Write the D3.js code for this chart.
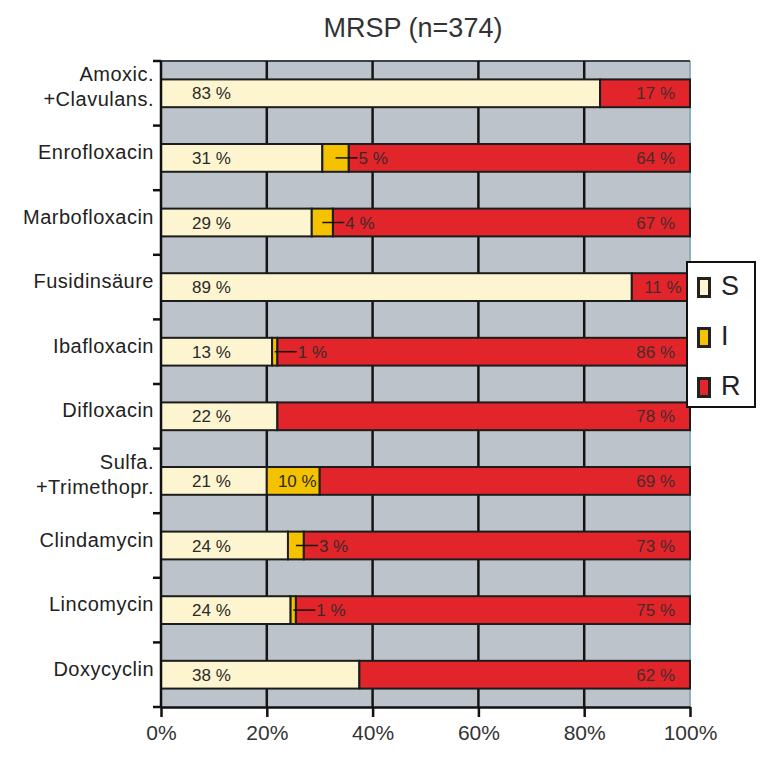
<!DOCTYPE html>
<html>
<head>
<meta charset="utf-8">
<script src="https://cdn.jsdelivr.net/npm/d3@7"></script>
<style>
  body { margin: 0; background: #fff; }
  svg text { font-family: "Liberation Sans", Arial, sans-serif; }
</style>
</head>
<body>
<div id="chart"></div>
<script>
// antibiotics (two-line labels split into arrays)
var categories = [
  ["Amoxic.", "+Clavulans."], ["Enrofloxacin"], ["Marbofloxacin"], ["Fusidinsäure"],
  ["Ibafloxacin"], ["Difloxacin"], ["Sulfa.", "+Trimethopr."], ["Clindamycin"],
  ["Lincomycin"], ["Doxycyclin"]
];
// segment lengths as drawn in the picture (%)
var sDrawn = [83, 30.5, 28.5, 89, 21, 22, 20, 24, 24.5, 37.5];
var iDrawn = [0, 5, 4, 0, 1, 0, 10, 3, 1, 0];
var rDrawn = [17, 64.5, 67.5, 11, 78, 78, 70, 73, 74.5, 62.5];
// printed percentages
var sLabel = [83, 31, 29, 89, 13, 22, 21, 24, 24, 38];
var iLabel = [0, 5, 4, 0, 1, 0, 10, 3, 1, 0];
var rLabel = [17, 64, 67, 11, 86, 78, 69, 73, 75, 62];
var xTicks = [0, 20, 40, 60, 80, 100];
var legendKeys = ["S", "I", "R"];

var width = 768, height = 780;
var pLeft = 161, pRight = 690, pTop = 61, pBottom = 707;
var colors = { S: "#fdf5cf", I: "#f5c200", R: "#e2252b" };

var svg = d3.select('#chart').append('svg')
            .attr('width', width)
            .attr('height', height);

var x = d3.scaleLinear().domain([0, 100]).range([pLeft, pRight]);
var y = d3.scaleBand().domain(d3.range(categories.length))
          .range([pTop, pBottom]).paddingInner(0.57).paddingOuter(0.285);

// table for the stack
var table = categories.map(function(c, i) {
  return { idx: i, S: sDrawn[i], I: iDrawn[i], R: rDrawn[i] };
});
var series = d3.stack().keys(legendKeys)(table);

// title
svg.append('text')
   .attr('x', 413).attr('y', 37)
   .attr('text-anchor', 'middle')
   .attr('font-size', 27).attr('fill', '#333')
   .text('MRSP (n=374)');

// plot background
svg.append('rect')
   .attr('x', pLeft).attr('y', pTop)
   .attr('width', pRight - pLeft).attr('height', pBottom - pTop)
   .attr('fill', '#bcc3cb');

svg.append('line')
   .attr('x1', pRight).attr('x2', pRight).attr('y1', pTop).attr('y2', pBottom)
   .attr('stroke', '#8fb0b6').attr('stroke-width', 2);
svg.append('line')
   .attr('x1', pLeft).attr('x2', pRight).attr('y1', pTop).attr('y2', pTop)
   .attr('stroke', '#3c4448').attr('stroke-width', 2);

// vertical gridlines
svg.append('g').selectAll('line')
   .data(xTicks.slice(1, -1))
   .enter().append('line')
   .attr('x1', d => x(d)).attr('x2', d => x(d))
   .attr('y1', pTop).attr('y2', pBottom)
   .attr('stroke', '#151515').attr('stroke-width', 2.5);

// bars
svg.append('g').selectAll('g')
   .data(series)
   .enter().append('g')
   .attr('fill', d => colors[d.key])
   .selectAll('rect')
   .data(d => d.filter(s => s[1] > s[0]))
   .enter().append('rect')
   .attr('x', d => x(d[0]))
   .attr('y', d => y(d.data.idx))
   .attr('width', d => x(d[1]) - x(d[0]))
   .attr('height', y.bandwidth())
   .attr('stroke', '#1c1c1c').attr('stroke-width', 2);

var labels = svg.append('g').attr('font-size', 17);

// S labels
labels.selectAll('.ls')
   .data(table).enter().append('text')
   .attr('x', x(0) + 31)
   .attr('y', d => y(d.idx) + y.bandwidth() / 2 + 6)
   .attr('fill', '#2a2a2a')
   .text(d => sLabel[d.idx] + ' %');

// R labels
labels.selectAll('.lr')
   .data(table).enter().append('text')
   .attr('x', function(d) {
     var x0 = x(100 - d.R);
     return (x(100) - x0 < 70) ? (x0 + x(100)) / 2 + 2 : x(100) - 15;
   })
   .attr('text-anchor', d => (x(100) - x(100 - d.R) < 70) ? 'middle' : 'end')
   .attr('y', d => y(d.idx) + y.bandwidth() / 2 + 6)
   .attr('fill', '#4a2a2a')
   .text(d => rLabel[d.idx] + ' %');

// I labels: inside when wide, else with a leader line
table.filter(d => d.I > 0).forEach(function(d) {
  var cy = y(d.idx) + y.bandwidth() / 2;
  var mid = x(d.S + d.I / 2);
  if (d.I >= 8) {
    labels.append('text')
       .attr('x', mid + 4).attr('y', cy + 6)
       .attr('text-anchor', 'middle').attr('fill', '#2a2a2a')
       .text(iLabel[d.idx] + ' %');
  } else {
    labels.append('line')
       .attr('x1', mid).attr('x2', mid + 22)
       .attr('y1', cy).attr('y2', cy)
       .attr('stroke', '#111').attr('stroke-width', 1.5);
    labels.append('text')
       .attr('x', mid + 23).attr('y', cy + 6)
       .attr('fill', '#3a2a2a')
       .text(iLabel[d.idx] + ' %');
  }
});

// y axis
svg.append('line')
   .attr('x1', pLeft).attr('x2', pLeft).attr('y1', pTop).attr('y2', pBottom)
   .attr('stroke', '#111').attr('stroke-width', 2.5);
svg.append('g').selectAll('line')
   .data(d3.range(categories.length + 1))
   .enter().append('line')
   .attr('x1', pLeft - 8).attr('x2', pLeft)
   .attr('y1', d => pTop + d * (pBottom - pTop) / categories.length)
   .attr('y2', d => pTop + d * (pBottom - pTop) / categories.length)
   .attr('stroke', '#111').attr('stroke-width', 2.5);

var yl = svg.append('g')
   .attr('font-size', 20).attr('fill', '#222')
   .attr('text-anchor', 'end').attr('letter-spacing', 0.5);
categories.forEach(function(c, i) {
  var cy = y(i) + y.bandwidth() / 2;
  var t = yl.append('text').attr('x', 154);
  if (c.length == 1) {
    t.attr('y', cy + 1).text(c[0]);
  } else {
    t.append('tspan').attr('x', 154).attr('y', cy - 12).text(c[0]);
    t.append('tspan').attr('x', 154).attr('y', cy + 13).text(c[1]);
  }
});

// x axis
var xAxis = svg.append('g')
   .attr('transform', 'translate(0,' + pBottom + ')')
   .call(d3.axisBottom(x).tickValues(xTicks).tickFormat(d => d + '%')
           .tickSize(10).tickSizeOuter(0).tickPadding(8));
xAxis.select('.domain').attr('stroke', '#111').attr('stroke-width', 2.5);
xAxis.selectAll('.tick line').attr('stroke', '#111').attr('stroke-width', 2.5);
xAxis.selectAll('.tick text')
   .style('font-size', '21px').attr('fill', '#333')
   .style('font-family', '"Liberation Sans", Arial, sans-serif');

// legend
var lg = svg.append('g');
lg.append('rect')
  .attr('x', 687).attr('y', 262).attr('width', 68).attr('height', 145)
  .attr('fill', '#fff').attr('stroke', '#111').attr('stroke-width', 2);
legendKeys.forEach(function(k, i) {
  var ly = 277 + i * 50;
  lg.append('rect').attr('x', 697).attr('y', ly).attr('width', 14).attr('height', 21)
    .attr('fill', '#222');
  lg.append('rect').attr('x', 700).attr('y', ly + 3).attr('width', 8).attr('height', 15)
    .attr('fill', colors[k]);
  lg.append('text').attr('x', 721).attr('y', ly + 18)
    .attr('font-size', 27).attr('fill', '#222').text(k);
});
</script>
</body>
</html>
